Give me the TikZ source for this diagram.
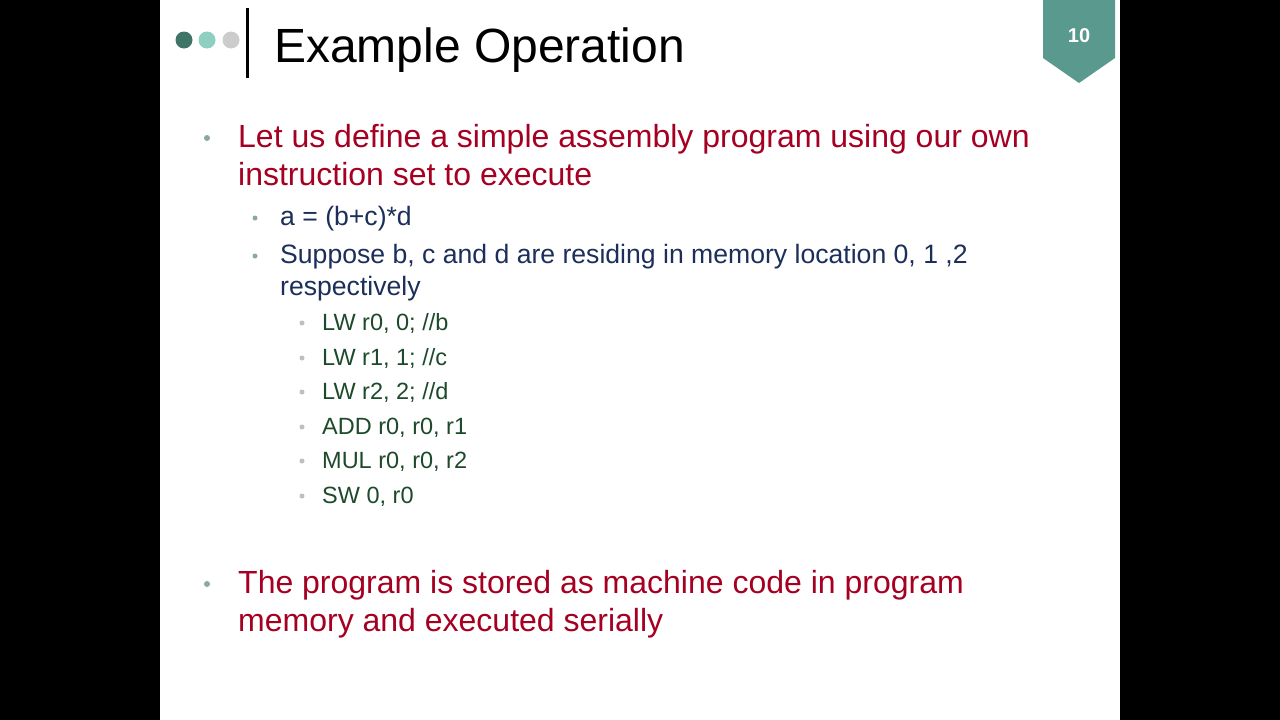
\documentclass[tikz,border=0pt]{standalone}
\usepackage{fontspec}
\setmainfont{Liberation Sans}
\definecolor{rd}{HTML}{A50021}
\definecolor{nv}{HTML}{1B2F5A}
\definecolor{gr}{HTML}{1C4A2A}
\definecolor{tl}{HTML}{5A9A8E}
\definecolor{dk}{HTML}{3E7566}
\definecolor{lt}{HTML}{8ECFC2}
\definecolor{bl}{HTML}{8AA9A2}
\begin{document}
\begin{tikzpicture}[x=1pt,y=-1pt,
  t/.style={anchor=base west,inner sep=0pt},
  l1/.style={t,font=\fontsize{32}{34}\selectfont,text=rd},
  l2/.style={t,font=\fontsize{26.6}{28}\selectfont,text=nv},
  l3/.style={t,font=\fontsize{23.5}{25}\selectfont,text=gr},
  bu/.style={circle,fill=bl,inner sep=0pt,minimum size=#1}]
\useasboundingbox (0,0) rectangle (1280,720);
\fill[black] (0,0) rectangle (1280,720);
\fill[white] (160,0) rectangle (1120,720);
\fill[dk] (184,40) circle (8.5);
\fill[lt] (207,40) circle (8.5);
\fill[black!20] (231,40) circle (8.5);
\draw[line width=3pt] (247,8) -- (247,78);
\node[t,font=\fontsize{48}{50}\selectfont] (title) at (274,62) {Example Operation};
\fill[tl] (1043,0) -- (1115,0) -- (1115,58) -- (1079,83) -- (1043,58) -- cycle;
\node[font=\bfseries\fontsize{20}{22}\selectfont,text=white] (num) at (1079,36) {10};
\node[bu=6pt] (b1) at (207,138) {};
\node[l1] (p1) at (238,147) {Let us define a simple assembly program using our own};
\node[l1] (p1b) at (238,185) {instruction set to execute};
\node[bu=5pt] (b2) at (255,218) {};
\node[l2] (q1) at (280,225) {a = (b+c)*d};
\node[bu=5pt] (b3) at (255,256) {};
\node[l2] (q2) at (280,263) {Suppose b, c and d are residing in memory location 0, 1 ,2};
\node[l2] (q2b) at (280,295) {respectively};
\foreach \y/\s [count=\i] in {330/{LW r0, 0; //b},365/{LW r1, 1; //c},399/{LW r2, 2; //d},434/{ADD r0, r0, r1},468/{MUL r0, r0, r2},503/{SW 0, r0}}{
  \node[bu=5pt,fill=black!25] (c\i) at (302,\y-7) {};
  \node[l3] (r\i) at (322,\y) {\s};
}
\node[bu=6pt] (b4) at (207,584) {};
\node[l1] (p2) at (238,593) {The program is stored as machine code in program};
\node[l1] (p2b) at (238,631) {memory and executed serially};
\end{tikzpicture}
\end{document}
